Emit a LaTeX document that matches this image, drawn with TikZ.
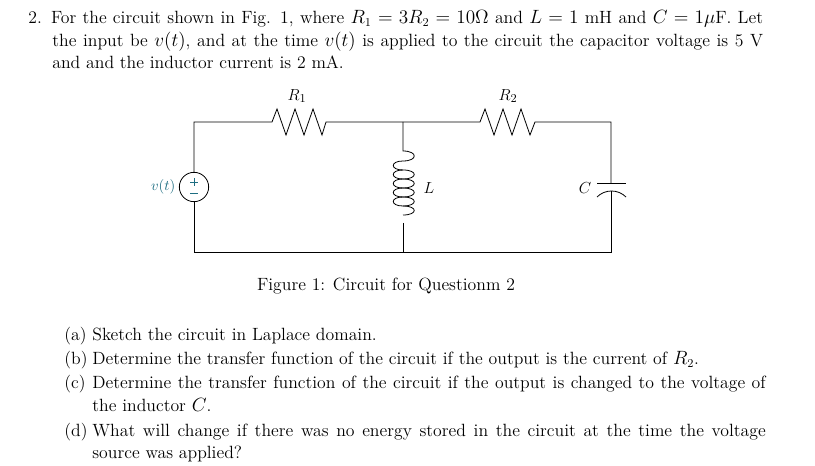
\documentclass[tikz,border=0pt]{standalone}
\definecolor{teal2}{RGB}{30,110,130}
\begin{document}
\begin{tikzpicture}[x=0.75pt,y=-0.75pt,line width=0.6pt,
  txt/.style={anchor=base west,inner sep=0pt,font=\fontsize{13.3}{15}\selectfont},
  lbl/.style={inner sep=1pt,font=\fontsize{12.5}{14}\selectfont}]
\useasboundingbox (0,0) rectangle (815,466);
% text
\node[txt] (l1) at (28,24) {\makebox[551pt][s]{2. For the circuit shown in Fig. 1, where $R_1=3R_2=10\Omega$ and $L=1$ mH and $C=1\mu$F. Let}};
\node[txt] (l2) at (52,47) {\makebox[533pt][s]{the input be $v(t)$, and at the time $v(t)$ is applied to the circuit the capacitor voltage is 5 V}};
\node[txt] (l3) at (52,69) {and and the inductor current is 2 mA.};
\node[txt,anchor=base] (cap) at (386,291) {Figure 1: Circuit for Questionm 2};
\node[txt] (a) at (64,341) {(a)}; \node[txt] (at) at (92,341) {Sketch the circuit in Laplace domain.};
\node[txt] (b) at (64,365) {(b)}; \node[txt] (bt) at (92,365) {Determine the transfer function of the circuit if the output is the current of $R_2$.};
\node[txt] (c) at (64,389) {(c)}; \node[txt] (ct) at (92,389) {\makebox[505pt][s]{Determine the transfer function of the circuit if the output is changed to the voltage of}};
\node[txt] (c2) at (92,412) {the inductor $C$.};
\node[txt] (d) at (64,437) {(d)}; \node[txt] (dt) at (92,437) {\makebox[505pt][s]{What will change if there was no energy stored in the circuit at the time the voltage}};
\node[txt] (d2) at (92,459) {source was applied?};
% circuit
\coordinate (tl) at (194,122); \coordinate (tm) at (403,122); \coordinate (tr) at (611,122);
\coordinate (bl) at (194,252); \coordinate (bm) at (403,252); \coordinate (br) at (611,252);
\node[circle,draw,minimum size=22pt,inner sep=0pt] (src) at (194,187) {};
\draw[teal2,line width=0.5pt] (190,182) -- (198,182) (194,178) -- (194,186) (190,193) -- (198,193);
\node[lbl,text=teal2,anchor=east,font=\fontsize{11}{13}\selectfont] (vl) at (177,187) {$v(t)$};
\draw (src.north) -- (tl) -- (272,122) -- (277,109) -- (286,135) -- (295,109) -- (304,135) -- (313,109) -- (322,135) -- (326,122) -- (tm)
  -- (480,122) -- (485,109) -- (494,135) -- (503,109) -- (512,135) -- (521,109) -- (530,135) -- (535,122) -- (tr) -- (611,183);
\node[lbl] (r1) at (297,96) {$R_1$};
\node[lbl] (r2) at (508,96) {$R_2$};
\draw (597,183) -- (626,183);
\draw (597,197) .. controls (605,189) and (618,189) .. (626,197);
\draw (611,191) -- (br) -- (bl) -- (src.south);
\node[lbl] (cl) at (585,188) {$C$};
% inductor
\draw (tm) -- (403,151) .. controls (418,151) and (418,161) .. (403,161);
\foreach \y in {161,170,179,188,197} {
  \draw (403,\y) .. controls (390,\y) and (390,\y+9) .. (403,\y+9) .. controls (418,\y+9) and (418,\y+18) .. (403,\y+18);
}
\draw (403,223) -- (bm);
\node[lbl] (ll) at (429,188) {$L$};
\end{tikzpicture}
\end{document}
